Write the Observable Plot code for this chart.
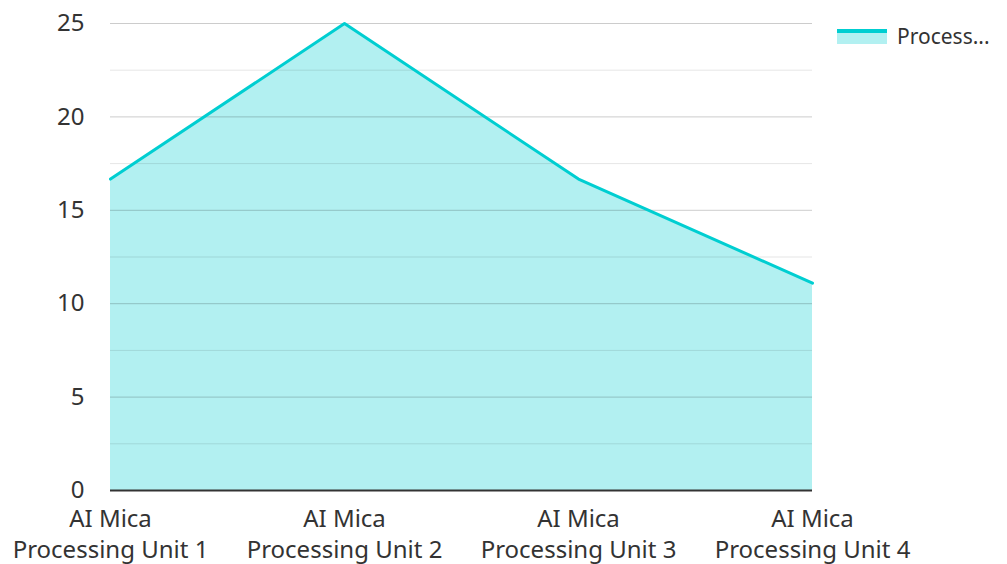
<!DOCTYPE html>
<html>
<head>
<meta charset="utf-8">
<script src="https://cdn.jsdelivr.net/npm/d3@7"></script>
<script src="https://cdn.jsdelivr.net/npm/@observablehq/plot@0.6"></script>
<style>
  html, body { margin: 0; padding: 0; background: #fff; }
  #wrap { position: relative; width: 1007px; height: 564px; font-family: "Noto Sans", sans-serif; }
  #legend { position: absolute; left: 837px; top: 22px; display: flex; align-items: center; font-size: 21px; color: #333; }
  #legend .sw { width: 50px; height: 15px; background: rgba(0,206,209,0.3); border-top: 4px solid #00CED1; box-sizing: border-box; margin-right: 10px; }
</style>
</head>
<body>
<div id="wrap"><div id="legend"><div class="sw"></div><span>Process...</span></div></div>
<script>
const categories = ["AI Mica Processing Unit 1", "AI Mica Processing Unit 2", "AI Mica Processing Unit 3", "AI Mica Processing Unit 4"];
const values = [16.67, 25, 16.67, 11.1];
const majorTicks = [0, 5, 10, 15, 20, 25];
const minorTicks = [2.5, 7.5, 12.5, 17.5, 22.5];

const data = categories.map((c, i) => ({cat: c, v: values[i]}));
const split = s => s.replace(/^AI Mica /, "AI Mica\n");

const chart = Plot.plot({
  width: 1007,
  height: 564,
  marginLeft: 110,
  marginRight: 195,
  marginTop: 23,
  marginBottom: 74,
  style: {fontFamily: "Noto Sans, sans-serif", color: "#333", background: "transparent"},
  x: {type: "point", domain: categories, padding: 0, axis: null},
  y: {domain: [0, 25], axis: null},
  marks: [
    Plot.areaY(data, {x: "cat", y: "v", fill: "#00CED1", fillOpacity: 0.3}),
    Plot.ruleY(minorTicks, {stroke: "#000", strokeOpacity: 0.1, strokeWidth: 1}),
    Plot.ruleY(majorTicks.filter(d => d > 0), {stroke: "#000", strokeOpacity: 0.2, strokeWidth: 1}),
    Plot.lineY(data, {x: "cat", y: "v", stroke: "#00CED1", strokeWidth: 3}),
    Plot.ruleY([0], {stroke: "#333", strokeWidth: 2}),
    Plot.text(majorTicks, {y: d => d, text: d => String(d), frameAnchor: "left", dx: -26, textAnchor: "end", fontSize: 24, fill: "#333"}),
    Plot.text(categories, {x: d => d, text: d => split(d), frameAnchor: "bottom", dy: 14, lineAnchor: "top", lineHeight: 1.3, fontSize: 24, fill: "#333"})
  ]
});
chart.style.position = "absolute";
chart.style.left = "0";
chart.style.top = "0";
chart.style.overflow = "visible";
document.getElementById("wrap").prepend(chart);
</script>
</body>
</html>
